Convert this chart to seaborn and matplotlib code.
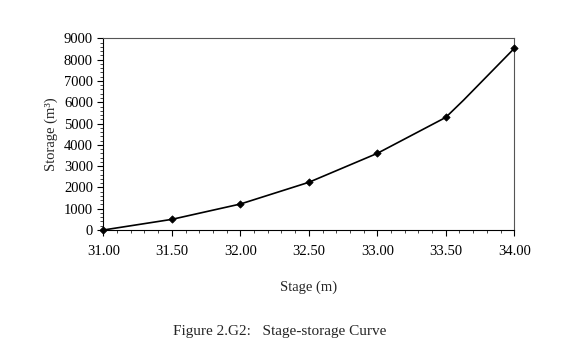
import matplotlib
matplotlib.use('Agg')
import matplotlib.pyplot as plt
from matplotlib.ticker import MultipleLocator
import seaborn as sns
import pandas as pd

# measured stage/storage points (markers)
stage = [31.0, 31.5, 32.0, 32.5, 33.0, 33.5, 34.0]
storage = [0, 500, 1220, 2240, 3600, 5290, 8530]

# the drawn curve has one extra bend between 33.5 and 34.0
curve_stage = [31.0, 31.5, 32.0, 32.5, 33.0, 33.5, 33.63, 34.0]
curve_storage = [0, 500, 1220, 2240, 3600, 5290, 6100, 8530]

x_ticks = [31.0, 31.5, 32.0, 32.5, 33.0, 33.5, 34.0]
x_labels = ['31.00', '31.50', '32.00', '32.50', '33.00', '33.50', '34.00']

sns.set_style('ticks')
plt.rcParams['font.family'] = ['Liberation Serif', 'DejaVu Serif']

pts = pd.DataFrame({'stage': stage, 'storage': storage})
curve = pd.DataFrame({'stage': curve_stage, 'storage': curve_storage})

fig = plt.figure(figsize=(5.75, 3.62), dpi=100)
ax = fig.add_axes([0.1797, 0.3646, 0.7147, 0.5294])

sns.lineplot(data=curve, x='stage', y='storage', ax=ax, color='black',
             linewidth=1.2, sort=False)
sns.scatterplot(data=pts, x='stage', y='storage', ax=ax, color='black',
                marker='D', s=14, edgecolor='black', linewidth=0.5, zorder=3,
                clip_on=False)

ax.set_xlim(31.0, 34.0)
ax.set_ylim(0, 9000)
ax.set_xticks(x_ticks)
ax.set_xticklabels(x_labels)
ax.set_yticks(range(0, 9001, 1000))
ax.xaxis.set_minor_locator(MultipleLocator(0.1))
ax.yaxis.set_minor_locator(MultipleLocator(200))
ax.tick_params(which='major', direction='out', length=4, width=0.8,
               labelsize=10.5, colors='black')
ax.tick_params(axis='x', which='major', pad=7)
ax.tick_params(which='minor', direction='out', length=2.5, width=0.6)

for side in ['top', 'right']:
    ax.spines[side].set_visible(True)
    ax.spines[side].set_color('#555555')
    ax.spines[side].set_linewidth(0.8)
for side in ['left', 'bottom']:
    ax.spines[side].set_color('black')
    ax.spines[side].set_linewidth(0.8)

ax.set_xlabel('Stage (m)', fontsize=10.5, labelpad=16)
ax.set_ylabel('Storage (m³)', fontsize=10.5, labelpad=4)

fig.text(0.487, 0.084, 'Figure 2.G2:   Stage-storage Curve', ha='center',
         va='center', fontsize=11)

fig.savefig('out.png', dpi=100)
